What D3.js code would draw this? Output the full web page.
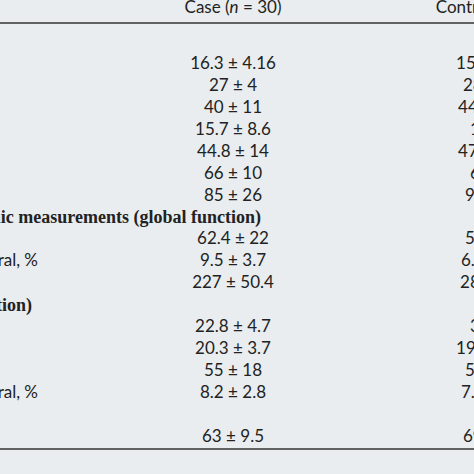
<!DOCTYPE html>
<html><head><meta charset="utf-8">
<script src="https://cdn.jsdelivr.net/npm/d3@7"></script>
<style>body{margin:0;background:#e9edef;overflow:hidden}</style>
</head><body>
<svg width="474" height="474"></svg>
<script>
// table rows: label (left, clipped), label end x, case value, control value, kind
const rowKinds = ['blank', 'data', 'data', 'data', 'data', 'data', 'data', 'data', 'section',
  'data', 'data', 'data', 'section', 'data', 'data', 'data', 'data', 'blank', 'data'];
const rowLabels = ['', '', '', '', '', '', '', '', 'Echocardiographic measurements (global function)',
  '', 'Integral, %', '', 'Regional function)', '', '', '', 'Integral, %', '', ''];
const labelEnds = [0, 0, 0, 0, 0, 0, 0, 0, 261, 0, 38, 0, 32, 0, 0, 0, 38, 0, 0];
const caseValues = ['', '16.3 ± 4.16', '27 ± 4', '40 ± 11', '15.7 ± 8.6', '44.8 ± 14', '66 ± 10', '85 ± 26', '',
  '62.4 ± 22', '9.5 ± 3.7', '227 ± 50.4', '', '22.8 ± 4.7', '20.3 ± 3.7', '55 ± 18', '8.2 ± 2.8', '', '63 ± 9.5'];
const controlValues = ['', '15.9 ± 3.8', '28.4 ± 5', '44.6 ± 12', '17 ± 7', '47.2 ± 13', '68 ± 9', '92 ± 24', '',
  '58 ± 20', '6.8 ± 2.9', '284 ± 60', '', '31 ± 5', '19.8 ± 3.5', '57 ± 16', '7.6 ± 2.5', '', '69.2 ± 8'];
const headers = ['Case (', 'Control ('];

const svg = d3.select('svg');
const font = 'Lato, "Open Sans", sans-serif';
const y = d3.scalePoint().domain(d3.range(rowKinds.length)).range([41, 436]);
const x = d3.scaleOrdinal().domain(['case', 'control']).range([233, 494]);

const hdr = svg.append('g').attr('font-family', font).attr('font-size', 17).attr('fill', '#222');
headers.forEach((h, i) => {
  const t = hdr.append('text').attr('x', x(i ? 'control' : 'case')).attr('y', 7).attr('dy', '0.35em')
    .attr('text-anchor', 'middle');
  t.append('tspan').text(h);
  t.append('tspan').attr('font-style', 'italic').text('n');
  t.append('tspan').text(' = 30)');
});

svg.append('line').attr('x1', 0).attr('x2', 474).attr('y1', 23).attr('y2', 23)
  .attr('stroke', '#333').attr('stroke-width', 1.6);
svg.append('line').attr('x1', 0).attr('x2', 474).attr('y1', 449).attr('y2', 449)
  .attr('stroke', '#333').attr('stroke-width', 1.6);

const rows = svg.append('g').attr('font-family', font).attr('font-size', 17).attr('fill', '#222')
  .selectAll('g').data(rowKinds).join('g')
  .attr('transform', (_d, i) => `translate(0,${ y(i) })`);

rows.append('text').attr('x', (_d, i) => labelEnds[i])
  .attr('text-anchor', 'end').attr('dy', '0.35em')
  .attr('font-weight', (d) => (d === 'section' ? 700 : 400))
  .attr('font-family', (d) => (d === 'section' ? '"Liberation Serif", serif' : font))
  .attr('font-size', (d) => (d === 'section' ? 18 : 17))
  .text((_d, i) => rowLabels[i]);
rows.append('text').attr('x', x('case')).attr('text-anchor', 'middle').attr('dy', '0.35em')
  .text((_d, i) => caseValues[i]);
rows.append('text').attr('x', x('control')).attr('text-anchor', 'middle').attr('dy', '0.35em')
  .text((_d, i) => controlValues[i]);
</script>
</body></html>
